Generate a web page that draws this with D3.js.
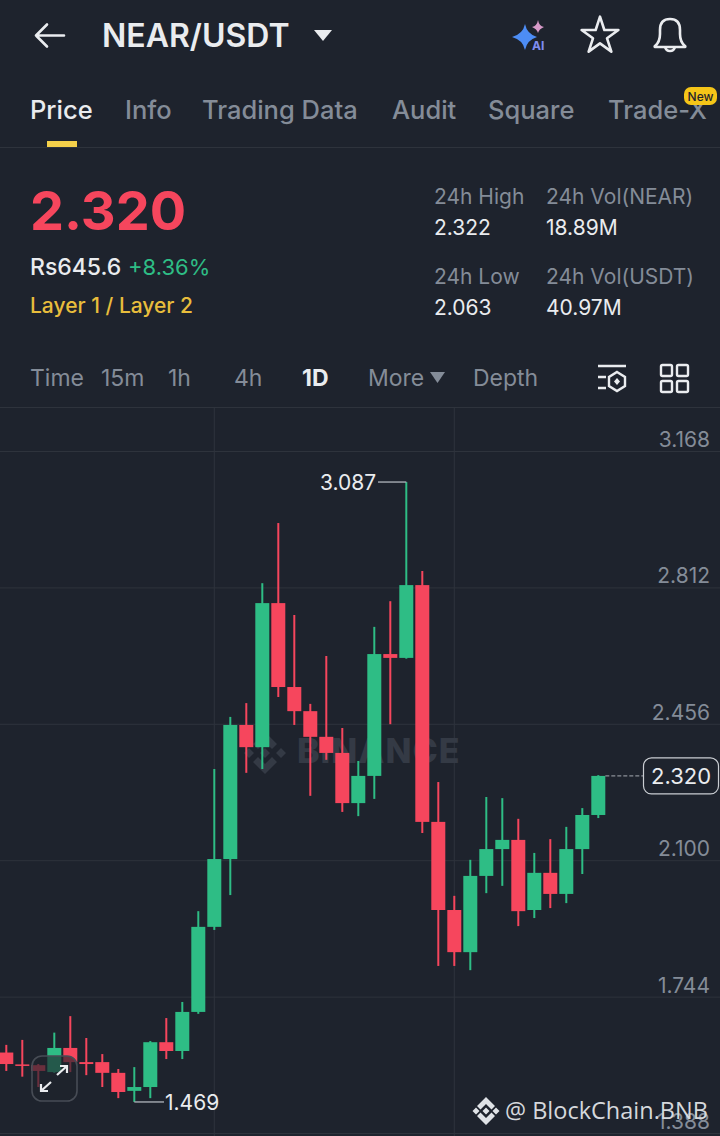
<!DOCTYPE html>
<html>
<head>
<meta charset="utf-8">
<script src="https://cdn.jsdelivr.net/npm/d3@7/dist/d3.min.js"></script>
<style>
  html, body { margin: 0; padding: 0; background: #1e232d; }
  svg { display: block; }
  text { font-family: Inter, Roboto, sans-serif; }
</style>
</head>
<body>
<div id="chart"></div>
<script>
// daily candles, oldest first
var opens = [1.598,1.567,1.565,1.547,1.610,1.573,1.573,1.545,1.498,1.508,1.625,1.602,1.704,1.926,2.103,2.453,2.395,2.771,2.552,2.489,2.422,2.380,2.249,2.320,2.638,2.628,2.818,2.200,1.970,1.860,2.059,2.129,2.153,1.970,2.067,2.012,2.129,2.218];
var closes = [1.568,1.563,1.550,1.610,1.573,1.568,1.545,1.495,1.508,1.625,1.602,1.704,1.926,2.103,2.453,2.395,2.771,2.552,2.489,2.422,2.380,2.249,2.320,2.638,2.628,2.818,2.200,1.970,1.860,2.059,2.129,2.153,1.967,2.067,2.012,2.129,2.218,2.320];
var highs = [1.618,1.631,1.568,1.650,1.693,1.636,1.594,1.555,1.560,1.628,1.688,1.730,1.967,2.338,2.474,2.510,2.823,2.980,2.740,2.508,2.633,2.445,2.359,2.709,2.776,3.087,2.855,2.304,2.007,2.101,2.265,2.262,2.208,2.119,2.155,2.187,2.236,2.322];
var lows = [1.550,1.535,1.508,1.545,1.547,1.539,1.508,1.479,1.469,1.479,1.581,1.581,1.699,1.918,2.009,2.328,2.338,2.526,2.453,2.268,2.362,2.226,2.215,2.260,2.455,2.626,2.171,1.824,1.824,1.813,2.014,2.033,1.928,1.949,1.975,1.988,2.064,2.210];

var yTicks = [3.168, 2.812, 2.456, 2.100, 1.744, 1.388];
var gridCandles = [13, 28];
var lastPrice = 2.320;
var maxPrice = 3.087;
var minPrice = 1.469;

var tabLabels = ["Price", "Info", "Trading Data", "Audit", "Square", "Trade-X"];
var intervalLabels = ["Time", "15m", "1h", "4h", "1D", "More", "Depth"];
var statLabels = ["24h High", "24h Vol(NEAR)", "24h Low", "24h Vol(USDT)"];
var statValues = ["2.322", "18.89M", "2.063", "40.97M"];

var bg = "#1e232d", grid = "#2e333c", grey = "#848c98", white = "#eaecef";
var green = "#2ebd85", red = "#f6465d", yellow = "#f0b90b";

var svg = d3.select("#chart").append("svg").attr("width", 720).attr("height", 1136);
svg.append("rect").attr("width", 720).attr("height", 1136).attr("fill", bg);

function label(txt, x, y, size, color, weight, anchor) {
  return svg.append("text").attr("x", x).attr("y", y)
    .attr("font-size", size).attr("fill", color)
    .attr("font-weight", weight || 400)
    .attr("text-anchor", anchor || "start")
    .text(txt);
}

// header
svg.append("path").attr("d", "M36 35.5H64M36 35.5L47 24.5M36 35.5L47 46.5")
  .attr("fill", "none").attr("stroke", white).attr("stroke-width", 2.6).attr("stroke-linecap", "round");
label("NEAR/USDT", 102, 47, 32, white, 600);
svg.append("path").attr("d", "M314 30H332L323 41Z").attr("fill", white);

// AI sparkle
svg.append("path").attr("d", "M525 24Q527 34 537 37Q527 40 525 50Q523 40 512 37Q523 34 525 24Z").attr("fill", "#4d8df5");
svg.append("path").attr("d", "M538 20Q539 26 544 27Q539 29 538 33Q537 29 532 27Q537 26 538 20Z").attr("fill", "#d79ac8");
label("AI", 532, 50, 12, "#7f8df0", 700);

// star
svg.append("path").attr("d", d3.symbol().type(d3.symbolStar).size(420)())
  .attr("transform", "translate(600,36)")
  .attr("fill", "none").attr("stroke", white).attr("stroke-width", 2.6).attr("stroke-linejoin", "round");

// bell
svg.append("path")
  .attr("d", "M655 46Q660 42 660 34V30Q660 19 670 19Q680 19 680 30V34Q680 42 685 46Q686 47 684 47H656Q654 47 655 46ZM665 47Q666 51 670 51Q674 51 675 47")
  .attr("fill", "none").attr("stroke", white).attr("stroke-width", 2.6).attr("stroke-linejoin", "round");

// tabs
var tabX = [30, 125, 202, 392, 488, 608];
tabLabels.forEach(function(d, i) {
  label(d, tabX[i], 119, 25.5, i == 0 ? white : grey, 500);
});
svg.append("rect").attr("x", 684).attr("y", 87).attr("width", 33).attr("height", 18).attr("rx", 7).attr("fill", "#f5c518");
label("New", 700.5, 100.5, 12, "#1e232d", 500, "middle");
svg.append("rect").attr("x", 47).attr("y", 141).attr("width", 30).attr("height", 6).attr("fill", "#f5d04a");
svg.append("line").attr("x1", 0).attr("x2", 720).attr("y1", 147.5).attr("y2", 147.5).attr("stroke", grid);

// price block
label("2.320", 30, 230, 54, red, 700);
label("Rs645.6", 30, 275, 23, white, 500);
label("+8.36%", 128, 275, 22, green, 400);
label("Layer 1 / Layer 2", 30, 313, 21, "#e8bd3c", 500);

var statX = [434, 546, 434, 546];
var statLabelY = [204, 204, 284, 284];
statLabels.forEach(function(d, i) {
  label(d, statX[i], statLabelY[i], 21, grey);
  label(statValues[i], statX[i], statLabelY[i] + 31, 21, white);
});

// interval row
var intervalX = [30, 101, 168, 234, 302, 368, 473];
intervalLabels.forEach(function(d, i) {
  label(d, intervalX[i], 386, 23, d == "1D" ? white : grey, d == "1D" ? 700 : 400);
});
svg.append("path").attr("d", "M430 372H445L437.5 383Z").attr("fill", grey);
svg.append("line").attr("x1", 0).attr("x2", 720).attr("y1", 407.5).attr("y2", 407.5).attr("stroke", grid);

// indicator icon
svg.append("path").attr("d", "M598 366H626M598 377H606M598 388H606")
  .attr("fill", "none").attr("stroke", white).attr("stroke-width", 2.4);
svg.append("path").attr("d", "M617 372L625 377V386L617 391L609 386V377Z")
  .attr("fill", "none").attr("stroke", white).attr("stroke-width", 2.4);
svg.append("path").attr("d", "M617 378L620 381.500L617 385L614 381.500Z").attr("fill", white);

// layout icon
[[661, 365], [677, 365], [661, 381], [677, 381]].forEach(function(p) {
  svg.append("rect").attr("x", p[0]).attr("y", p[1]).attr("width", 11).attr("height", 11).attr("rx", 1.5)
    .attr("fill", "none").attr("stroke", white).attr("stroke-width", 2.4);
});

// scales
var x = d3.scaleBand().domain(d3.range(opens.length)).range([-1.7, 606.3]).paddingInner(0.125).paddingOuter(0.0625);
var y = d3.scaleLinear().domain([3.168, 1.388]).range([451, 1133]);
var cx = function(i) { return x(i) + x.bandwidth() / 2; };

// grid
svg.selectAll(".vgrid").data(gridCandles).enter().append("line")
  .attr("class", "vgrid")
  .attr("x1", cx).attr("x2", cx).attr("y1", 408).attr("y2", 1136)
  .attr("stroke", grid);

var yAxis = svg.append("g").attr("transform", "translate(720,0)")
  .call(d3.axisLeft(y).tickValues(yTicks).tickSize(720).tickPadding(10).tickFormat(d3.format(".3f")));
yAxis.select(".domain").remove();
yAxis.selectAll("line").attr("stroke", grid);
yAxis.selectAll("text").attr("fill", grey).attr("font-size", 21).attr("dy", 0)
  .attr("x", -10).attr("y", -4.5).attr("text-anchor", "end");
// tick labels were placed left of the long tick, bring them back inside the plot
yAxis.selectAll("text").attr("x", -10);

// watermark
var wm = svg.append("g").attr("fill", "#343a45");
wm.append("path").attr("d", "M265 732L277 744L272 749L265 742L258 749L253 744ZM249 748L254 753L249 758L244 753ZM281 748L286 753L281 758L276 753ZM265 748L270 753L265 758L260 753ZM253 762L258 757L265 764L272 757L277 762L265 774Z");
wm.append("text").attr("x", 297).attr("y", 763).attr("font-size", 34).attr("font-weight", 800).attr("letter-spacing", 1).text("BINANCE");

// candles
var idx = d3.range(opens.length);
var candleColor = function(i) { return closes[i] >= opens[i] ? green : red; };

svg.selectAll(".wick").data(idx).enter().append("line")
  .attr("class", "wick")
  .attr("x1", cx).attr("x2", cx)
  .attr("y1", function(i) { return y(highs[i]); })
  .attr("y2", function(i) { return y(lows[i]); })
  .attr("stroke", candleColor).attr("stroke-width", 2);

svg.selectAll(".body").data(idx).enter().append("rect")
  .attr("class", "body")
  .attr("x", function(i) { return x(i); })
  .attr("width", x.bandwidth())
  .attr("y", function(i) { return y(Math.max(opens[i], closes[i])); })
  .attr("height", function(i) { return Math.max(1.5, Math.abs(y(opens[i]) - y(closes[i]))); })
  .attr("fill", candleColor);

// high / low markers
var hiX = cx(highs.indexOf(maxPrice)), loX = cx(lows.indexOf(minPrice));
svg.append("line").attr("x1", 378).attr("x2", hiX).attr("y1", y(maxPrice)).attr("y2", y(maxPrice)).attr("stroke", "#a7acb3").attr("stroke-width", 1.4);
label(d3.format(".3f")(maxPrice), 320, y(maxPrice) + 8, 21, white);
svg.append("line").attr("x1", loX).attr("x2", 164).attr("y1", y(minPrice)).attr("y2", y(minPrice)).attr("stroke", "#a7acb3").attr("stroke-width", 1.4);
label(d3.format(".3f")(minPrice), 165, y(minPrice) + 8, 21, white);

// last price tag
svg.append("line").attr("x1", cx(37) + 7).attr("x2", 643).attr("y1", y(lastPrice)).attr("y2", y(lastPrice))
  .attr("stroke", "#a7acb3").attr("stroke-dasharray", "4 2");
svg.append("rect").attr("x", 643.5).attr("y", y(lastPrice) - 18).attr("width", 75).attr("height", 36).attr("rx", 8)
  .attr("fill", bg).attr("stroke", "#c9cdd2").attr("stroke-width", 1.2);
label(d3.format(".3f")(lastPrice), 681, y(lastPrice) + 8, 22, white, 400, "middle");

// expand button
svg.append("rect").attr("x", 32).attr("y", 1056).attr("width", 45).attr("height", 45).attr("rx", 10)
  .attr("fill", bg).attr("fill-opacity", 0.65).attr("stroke", "#474c55").attr("stroke-width", 1.6);
svg.append("path").attr("d", "M57 1075L67 1066M60 1066H67V1073M51 1082L41 1091M41 1084V1091H48")
  .attr("fill", "none").attr("stroke", white).attr("stroke-width", 2.2);

// footer watermark
svg.append("path").attr("fill", "#dfe2e6")
  .attr("d", "M486 1097L495 1106L491.500 1109.500L486 1104L480.500 1109.500L477 1106ZM476 1107.500L479.500 1111L476 1114.500L472.500 1111ZM496 1107.500L499.500 1111L496 1114.500L492.500 1111ZM486 1107.500L489.500 1111L486 1114.500L482.500 1111ZM480.500 1112.500L486 1118L491.500 1112.500L495 1116L486 1125L477 1116Z");
label("@ BlockChain.BNB", 505, 1119, 23.5, "#d5d8dc").style("font-family", "'Open Sans'");
</script>
</body>
</html>
